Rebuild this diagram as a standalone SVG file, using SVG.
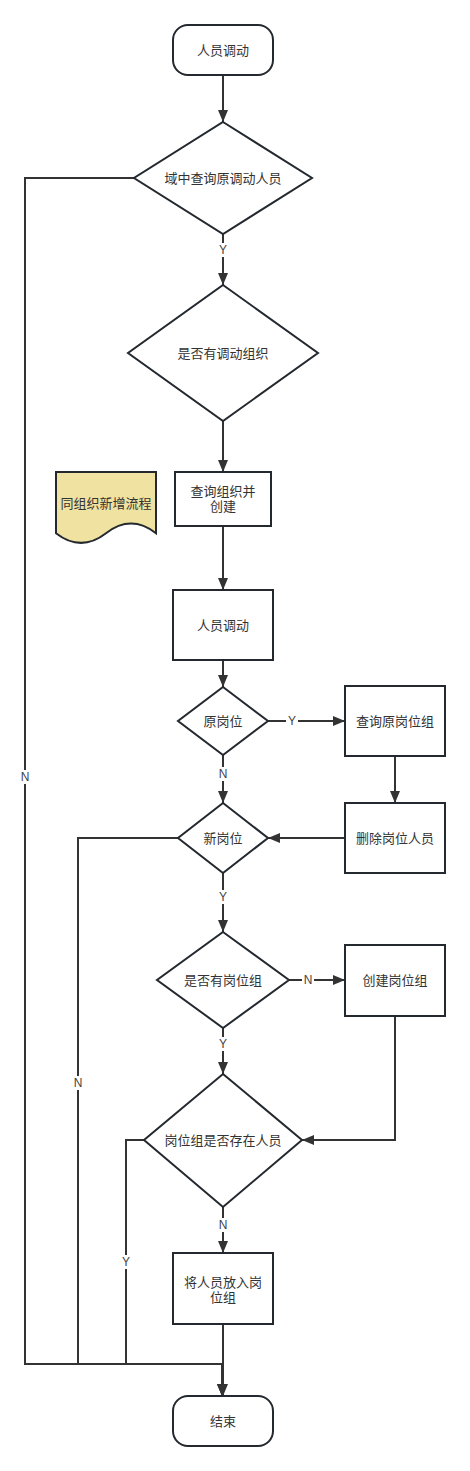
<svg xmlns="http://www.w3.org/2000/svg" width="470" height="1471" viewBox="0 0 470 1471">
<style>
.s{fill:#fff;stroke:#23292e;stroke-width:2}
.doc{fill:#f0e2a0;stroke:#23292e;stroke-width:2}
.t{font-family:"Noto Sans CJK SC","Liberation Sans",sans-serif;font-size:13px;fill:#333;text-anchor:middle}
.e{fill:none;stroke:#333;stroke-width:2}
.lb{fill:#fff}
.l{font-family:"Liberation Sans","Noto Sans CJK SC",sans-serif;font-size:12px;fill:#444;text-anchor:middle}
</style>
<defs>
<marker id="a" viewBox="0 0 12 10" refX="12" refY="5" markerWidth="12" markerHeight="10" markerUnits="userSpaceOnUse" orient="auto">
<path d="M0,0 L12,5 L0,10 z" fill="#333"/>
</marker>
</defs>
<rect width="470" height="1471" fill="#fff"/>
<g id="connectors">
<path class="e" d="M223,75 V122" marker-end="url(#a)"/>
<path class="e" d="M223,234 V285" marker-end="url(#a)"/>
<path class="e" d="M223,421 V472" marker-end="url(#a)"/>
<path class="e" d="M223,526 V590" marker-end="url(#a)"/>
<path class="e" d="M223,660 V687" marker-end="url(#a)"/>
<path class="e" d="M268,721 H345" marker-end="url(#a)"/>
<path class="e" d="M395,756 V803" marker-end="url(#a)"/>
<path class="e" d="M345,838 H268" marker-end="url(#a)"/>
<path class="e" d="M223,755 V803" marker-end="url(#a)"/>
<path class="e" d="M223,873 V932" marker-end="url(#a)"/>
<path class="e" d="M289,980 H345" marker-end="url(#a)"/>
<path class="e" d="M223,1028 V1074" marker-end="url(#a)"/>
<path class="e" d="M395,1016 V1140 H302" marker-end="url(#a)"/>
<path class="e" d="M223,1207 V1253" marker-end="url(#a)"/>
<path class="e" d="M223,1324 V1396" marker-end="url(#a)"/>
<path class="e" d="M134,178 H25 V1364 H222 V1396" marker-end="url(#a)"/>
<path class="e" d="M178,838 H78 V1364 H222 V1396" marker-end="url(#a)"/>
<path class="e" d="M144,1140 H126 V1364 H222 V1396" marker-end="url(#a)"/>
<rect class="lb" x="217" y="243" width="12" height="14"/><text class="l" x="223" y="254">Y</text>
<rect class="lb" x="286" y="714" width="12" height="14"/><text class="l" x="292" y="725">Y</text>
<rect class="lb" x="217" y="767" width="12" height="14"/><text class="l" x="223" y="778">N</text>
<rect class="lb" x="217" y="890" width="12" height="14"/><text class="l" x="223" y="901">Y</text>
<rect class="lb" x="302" y="973" width="12" height="14"/><text class="l" x="308" y="984">N</text>
<rect class="lb" x="217" y="1037" width="12" height="14"/><text class="l" x="223" y="1048">Y</text>
<rect class="lb" x="217" y="1218" width="12" height="14"/><text class="l" x="223" y="1229">N</text>
<rect class="lb" x="19" y="770" width="12" height="14"/><text class="l" x="25" y="781">N</text>
<rect class="lb" x="72" y="1076" width="12" height="14"/><text class="l" x="78" y="1087">N</text>
<rect class="lb" x="120" y="1255" width="12" height="14"/><text class="l" x="126" y="1266">Y</text>
</g>
<g id="start">
<rect class="s" x="173" y="25" width="100" height="50" rx="15" ry="15"/>
<text class="t" x="223" y="54.5">人员调动</text>
</g>
<g id="d1">
<polygon class="s" points="223,122 312,178 223,234 134,178"/>
<text class="t" x="223" y="182.5">域中查询原调动人员</text>
</g>
<g id="d2">
<polygon class="s" points="223,285 318,353 223,421 128,353"/>
<text class="t" x="223" y="357.5">是否有调动组织</text>
</g>
<g id="note">
<path class="doc" d="M56,472 H156 V533.2 Q131,513.8 106,533.2 Q81,552.6 56,533.2 Z"/>
<text class="t" x="106" y="507.5">同组织新增流程</text>
</g>
<g id="r1">
<rect class="s" x="175" y="472" width="96" height="54"/>
<text class="t" x="223" y="496"><tspan x="223">查询组织并</tspan><tspan x="223" dy="15">创建</tspan></text>
</g>
<g id="r2">
<rect class="s" x="173" y="590" width="100" height="70"/>
<text class="t" x="223" y="629.5">人员调动</text>
</g>
<g id="d3">
<polygon class="s" points="223,687 268,721 223,755 178,721"/>
<text class="t" x="223" y="725.5">原岗位</text>
</g>
<g id="r3">
<rect class="s" x="345" y="686" width="100" height="70"/>
<text class="t" x="395" y="725.5">查询原岗位组</text>
</g>
<g id="r4">
<rect class="s" x="345" y="803" width="100" height="70"/>
<text class="t" x="395" y="842.5">删除岗位人员</text>
</g>
<g id="d4">
<polygon class="s" points="223,803 268,838 223,873 178,838"/>
<text class="t" x="223" y="842.5">新岗位</text>
</g>
<g id="d5">
<polygon class="s" points="223,932 289,980 223,1028 157,980"/>
<text class="t" x="223" y="984.5">是否有岗位组</text>
</g>
<g id="r5">
<rect class="s" x="345" y="945" width="100" height="71"/>
<text class="t" x="395" y="985">创建岗位组</text>
</g>
<g id="d6">
<polygon class="s" points="223,1074 302,1140 223,1207 144,1140"/>
<text class="t" x="223" y="1144.5">岗位组是否存在人员</text>
</g>
<g id="r6">
<rect class="s" x="173" y="1253" width="100" height="71"/>
<text class="t" x="223" y="1287"><tspan x="223">将人员放入岗</tspan><tspan x="223" dy="15">位组</tspan></text>
</g>
<g id="end">
<rect class="s" x="173" y="1396" width="100" height="50" rx="15" ry="15"/>
<text class="t" x="223" y="1425.5">结束</text>
</g>
</svg>
